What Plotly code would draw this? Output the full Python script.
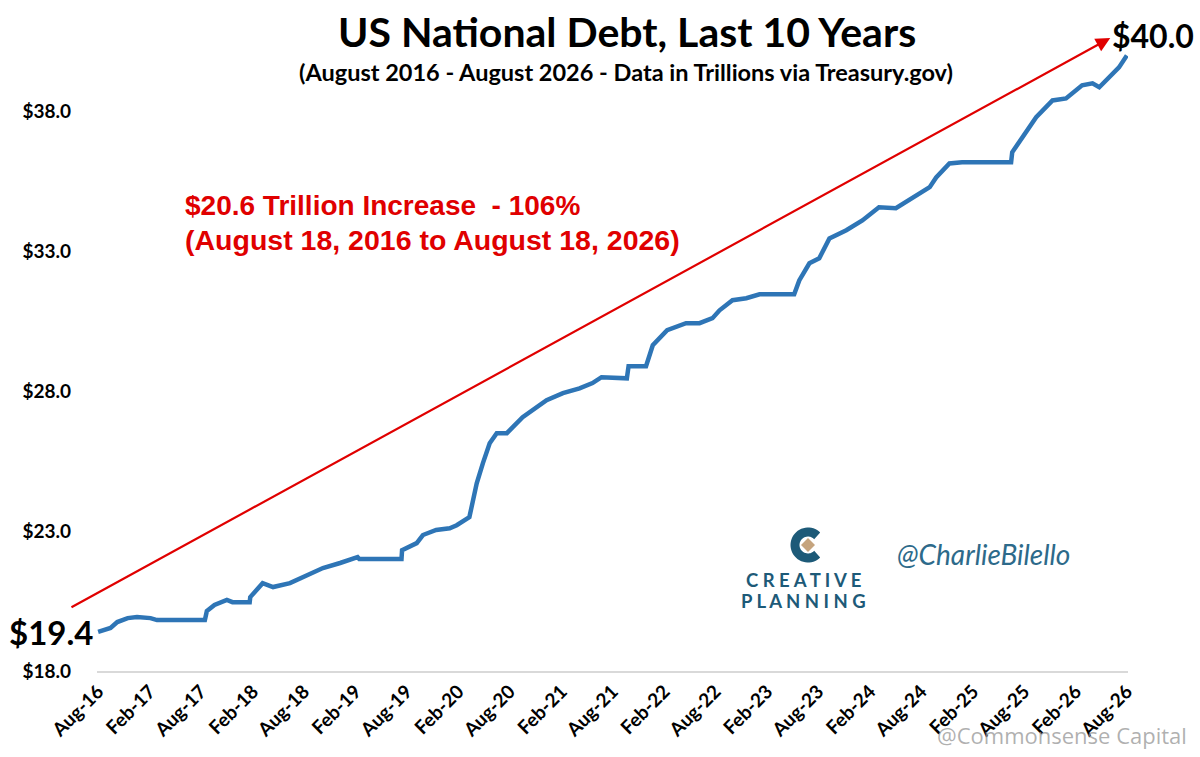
import math
import plotly.graph_objects as go

# debt readings (trillions $) taken off the chart, uneven spacing so the flat
# debt-ceiling stretches and jumps keep their shape
dates = [
    "2016-08-18", "2016-10-01", "2016-10-25", "2016-12-01", "2017-01-03", "2017-02-20",
    "2017-03-15", "2017-09-01", "2017-09-08", "2017-10-05", "2017-11-18", "2017-12-08",
    "2018-02-07", "2018-02-09", "2018-03-25", "2018-05-01", "2018-06-30", "2018-08-30",
    "2018-10-25", "2018-12-25", "2019-02-25", "2019-03-03", "2019-07-31", "2019-08-02",
    "2019-09-23", "2019-10-15", "2019-12-01", "2020-01-18", "2020-02-12", "2020-03-28",
    "2020-04-23", "2020-05-15", "2020-06-08", "2020-07-03", "2020-08-08", "2020-10-03",
    "2020-12-27", "2021-02-23", "2021-04-23", "2021-06-08", "2021-07-10", "2021-10-08",
    "2021-10-14", "2021-12-15", "2022-01-08", "2022-02-28", "2022-05-06", "2022-06-23",
    "2022-08-08", "2022-09-02", "2022-10-18", "2022-12-06", "2023-01-22", "2023-05-25",
    "2023-06-12", "2023-07-18", "2023-08-22", "2023-09-27", "2023-11-26", "2024-01-22",
    "2024-03-21", "2024-05-20", "2024-07-18", "2024-09-17", "2024-10-10", "2024-11-26",
    "2025-01-10", "2025-07-03", "2025-07-07", "2025-09-05", "2025-09-30", "2025-11-27",
    "2026-01-14", "2026-03-12", "2026-04-18", "2026-05-12", "2026-06-27", "2026-07-21",
    "2026-08-18",
]
debt = [
    19.40, 19.54, 19.75, 19.89, 19.93, 19.89,
    19.82, 19.82, 20.14, 20.36, 20.54, 20.46,
    20.46, 20.64, 21.14, 21.00, 21.14, 21.43,
    21.68, 21.86, 22.07, 22.00, 22.00, 22.32,
    22.57, 22.86, 23.04, 23.10, 23.21, 23.50,
    24.71, 25.43, 26.14, 26.50, 26.50, 27.07,
    27.68, 27.93, 28.10, 28.29, 28.50, 28.46,
    28.89, 28.89, 29.64, 30.18, 30.43, 30.43,
    30.61, 30.89, 31.25, 31.32, 31.46, 31.46,
    31.96, 32.57, 32.75, 33.46, 33.75, 34.10,
    34.57, 34.54, 34.93, 35.29, 35.64, 36.14,
    36.18, 36.18, 36.54, 37.43, 37.79, 38.39,
    38.46, 38.93, 39.00, 38.86, 39.36, 39.57,
    40.00,
]

tick_dates = [
    "2016-08-18", "2017-02-18", "2017-08-18", "2018-02-18", "2018-08-18", "2019-02-18",
    "2019-08-18", "2020-02-18", "2020-08-18", "2021-02-18", "2021-08-18", "2022-02-18",
    "2022-08-18", "2023-02-18", "2023-08-18", "2024-02-18", "2024-08-18", "2025-02-18",
    "2025-08-18", "2026-02-18", "2026-08-18",
]
tick_text = [
    "Aug-16", "Feb-17", "Aug-17", "Feb-18", "Aug-18", "Feb-19", "Aug-19", "Feb-20",
    "Aug-20", "Feb-21", "Aug-21", "Feb-22", "Aug-22", "Feb-23", "Aug-23", "Feb-24",
    "Aug-24", "Feb-25", "Aug-25", "Feb-26", "Aug-26",
]
y_ticks = [18, 23, 28, 33, 38]

start_val = 19.4
end_val = 40.0
increase_txt = "$20.6 Trillion Increase  - 106%"
period_txt = "(August 18, 2016 to August 18, 2026)"

# plot area in pixels (1200x757 page)
L, R, T, B = 97, 72, 33, 86
W, H = 1200 - L - R, 757 - T - B


def px(x, y):
    # pixel position -> paper coords
    return (x - L) / W, 1 - (y - T) / H


BLUE = "#2E75B6"
RED = "#E00000"
TEAL = "#1D5A78"
FONT = "Lato"

fig = go.Figure()
fig.add_trace(go.Scatter(x=dates, y=debt, mode="lines",
                         line=dict(color=BLUE, width=4.5), hoverinfo="skip"))

ann = []


def text(x, y, s, size, color="black", family=FONT, xanchor="center", bold=True):
    ax, ay = px(x, y)
    if bold:
        s = "<b>" + s + "</b>"
    ann.append(dict(xref="paper", yref="paper", x=ax, y=ay, text=s, showarrow=False,
                    xanchor=xanchor, yanchor="middle",
                    font=dict(size=size, color=color, family=family)))


text(627, 31, "US National Debt, Last 10 Years", 41)
text(626, 72, "(August 2016 - August 2026 - Data in Trillions via Treasury.gov)", 23.5)
text(183, 205, increase_txt, 28, RED, "Liberation Sans", "left")
text(183, 240, period_txt, 28.5, RED, "Liberation Sans", "left")
text(51, 632, "$%.1f" % start_val, 33)
text(1153, 35, "$%.1f" % end_val, 32)
text(803, 580, "C R E A T I V E", 18.5, TEAL)
text(803, 601, "P L A N N I N G", 18.5, TEAL)
text(983, 554, "<i>@CharlieBilello</i>", 28, "#2D6A8A", bold=False)
text(1062, 735, "@Commonsense Capital", 22, "rgba(150,150,150,0.75)", "Open Sans", bold=False)

# red trend arrow
ann.append(dict(xref="x", yref="y", axref="x", ayref="y",
                x="2026-06-20", y=40.62, ax="2016-05-10", ay=20.25,
                showarrow=True, arrowhead=2, arrowsize=1.3, arrowwidth=2.2,
                arrowcolor=RED, text=""))

# Creative Planning "C" mark
cx, cy, r = 808, 545, 13
pts = []
for k in range(0, 41):
    a = math.radians(45 + k * 270 / 40)
    pts.append(px(cx + r * math.cos(a), cy - r * math.sin(a)))
c_path = "M " + " L ".join("%.5f %.5f" % p for p in pts)
dia = [px(cx - 7, cy), px(cx, cy - 7), px(cx + 7, cy), px(cx, cy + 7)]
d_path = "M " + " L ".join("%.5f %.5f" % p for p in dia) + " Z"

shapes = [
    dict(type="path", xref="paper", yref="paper", path=c_path,
         line=dict(color=TEAL, width=9)),
    dict(type="path", xref="paper", yref="paper", path=d_path,
         fillcolor="#C5A47E", line=dict(width=0)),
]

fig.update_layout(
    width=1200, height=757,
    margin=dict(l=L, r=R, t=T, b=B),
    paper_bgcolor="white", plot_bgcolor="white",
    showlegend=False,
    annotations=ann, shapes=shapes,
    font=dict(family=FONT, color="black"),
    xaxis=dict(range=["2016-08-14", "2026-08-22"], tickvals=tick_dates, ticktext=tick_text,
               tickangle=-45, tickfont=dict(size=19, family=FONT, weight="bold"),
               showgrid=False, zeroline=False, showline=True, linecolor="#D9D9D9",
               linewidth=2, ticks=""),
    yaxis=dict(range=[18, 40.8], tickvals=y_ticks,
               ticktext=["$%.1f" % v for v in y_ticks],
               tickfont=dict(size=19, family=FONT, weight="bold"),
               showgrid=False, zeroline=False, showline=False, ticks="",
               ticklabelstandoff=25),
)

# browser default body margin would push the chart 8px off the page
fig.write_html("out.html", config={"displayModeBar": False},
               post_script="document.body.style.margin='0';")
